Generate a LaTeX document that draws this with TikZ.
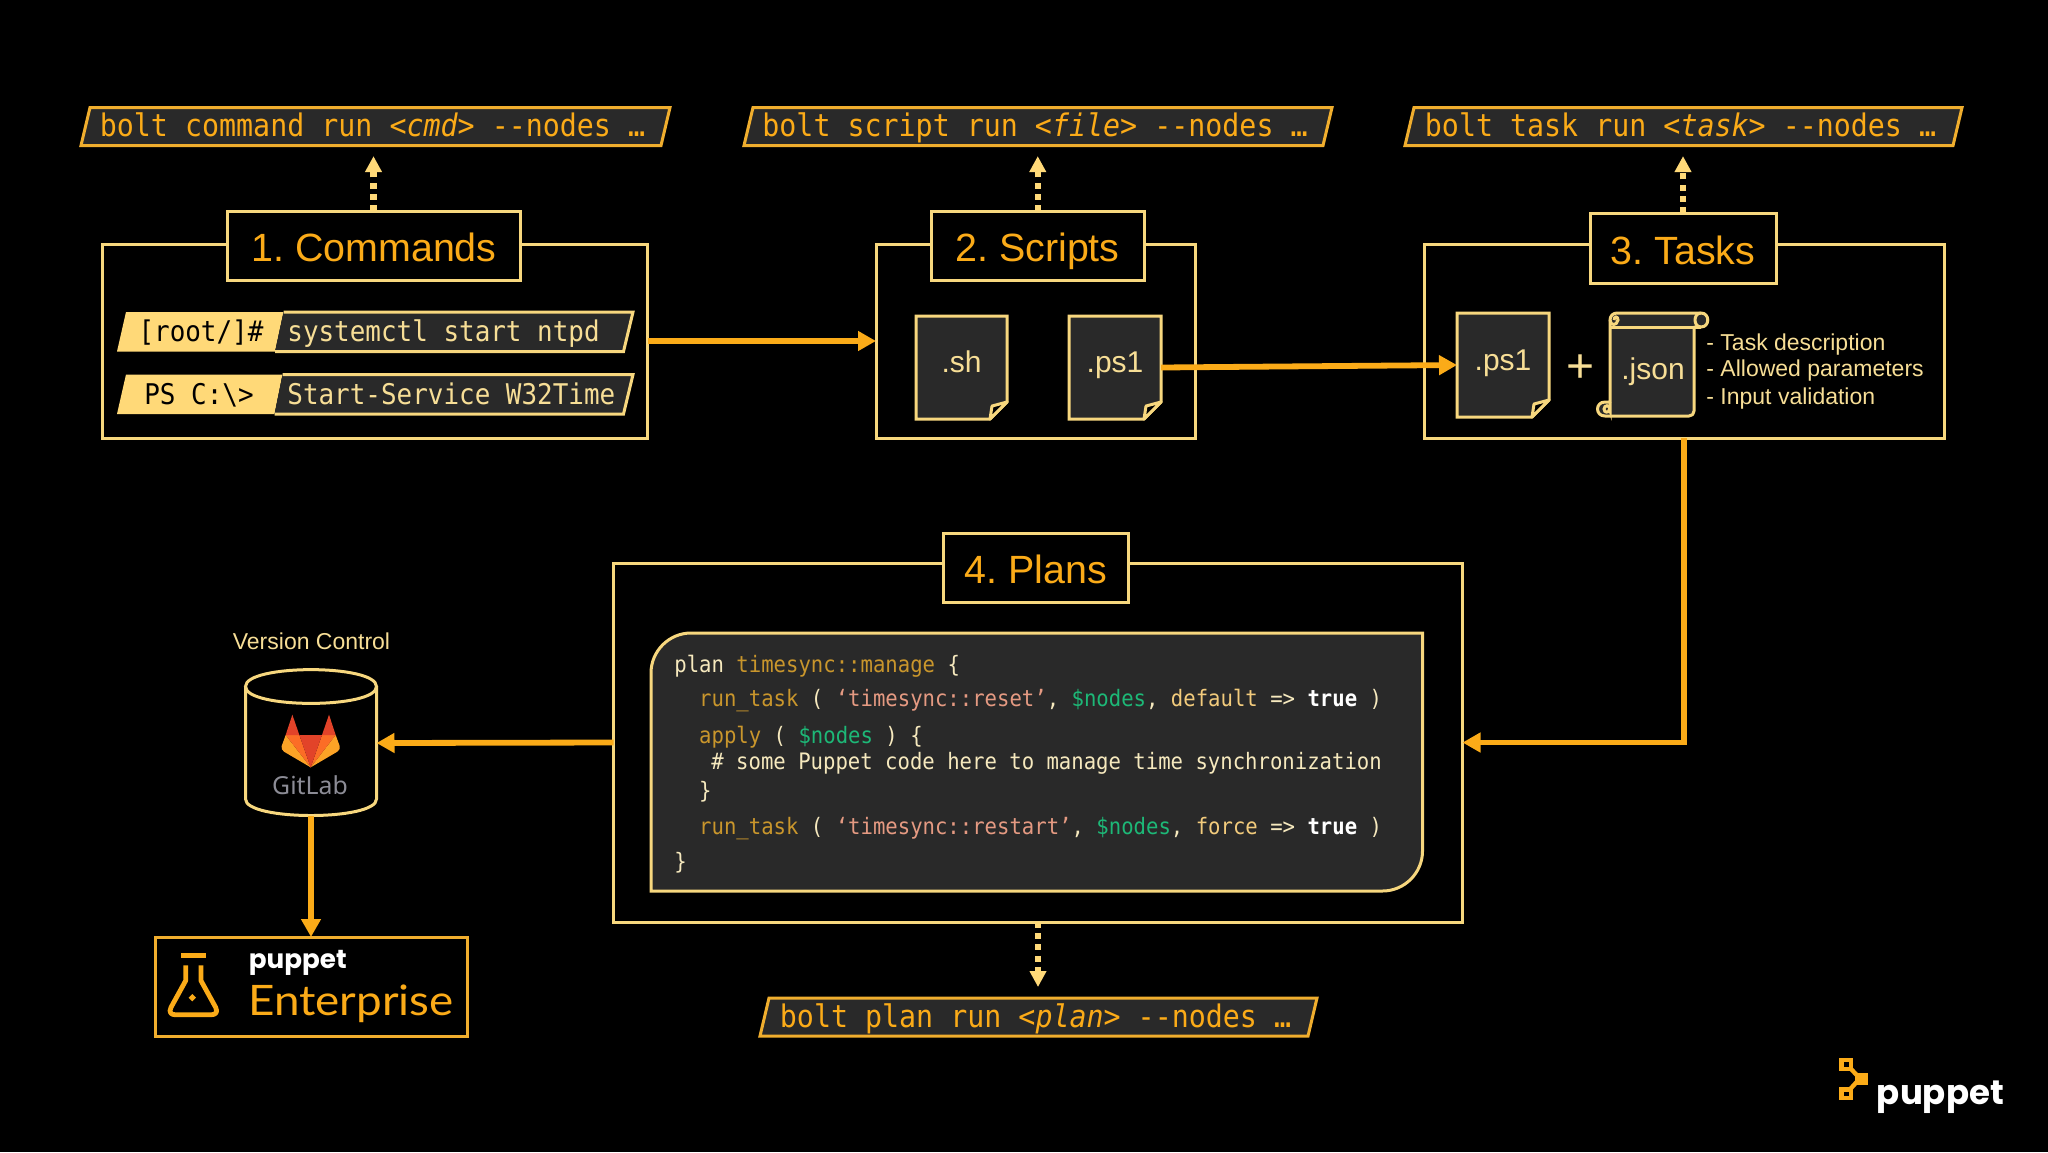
\documentclass[tikz,border=0pt]{standalone}
\usepackage{fontspec}
\usetikzlibrary{arrows.meta}
\setmainfont{Liberation Sans}
\newfontfamily\monoF[FakeStretch=0.91]{DejaVu Sans Mono}
\newfontfamily\popF{Poppins}
\newfontfamily\latoF[FakeStretch=1.09]{Lato}
\newfontfamily\notoF{Noto Sans}
\definecolor{amber}{HTML}{FBAB18}
\definecolor{amberline}{HTML}{F0AE2E}
\definecolor{pale}{HTML}{F7D77E}
\definecolor{palefill}{HTML}{FFD978}
\definecolor{dark}{HTML}{292929}
\definecolor{kwd}{HTML}{C9962C}
\definecolor{strc}{HTML}{E59A82}
\definecolor{grn}{HTML}{1DB877}
\definecolor{argc}{HTML}{F2CB7C}
\definecolor{plainc}{HTML}{F6E9BE}
\definecolor{labc}{HTML}{F7DE96}
\frenchspacing
\newcommand{\fsz}[1]{\fontsize{#1}{#1}\selectfont}
\newcommand{\cK}[1]{{\color{kwd}#1}}
\newcommand{\cS}[1]{{\color{strc}#1}}
\newcommand{\cG}[1]{{\color{grn}#1}}
\newcommand{\cA}[1]{{\color{argc}#1}}
\newcommand{\cT}[1]{{\color{white}\bfseries #1}}
\newcommand{\boxat}[6]{\node[#6,minimum width={(#4-#2)*0.5pt},minimum height={(#5-#3)*0.5pt},inner sep=0pt,outer sep=0pt] (#1) at ({(#2+#4)/2},{(#3+#5)/2}) {};}
% name, xbl, xtr, ytop, ybot, baseline, text
\newcommand{\cmdbox}[7]{%
  \fill[dark] (#2+9,#4) -- (#3,#4) -- (#3-9,#5) -- (#2,#5) -- cycle;
  \draw[amberline,line width=1.5pt] (#2+9,#4) -- (#3,#4) -- (#3-9,#5) -- (#2,#5) -- cycle;
  \boxat{#1}{#2}{#4}{#3}{#5}{}
  \node[cmdtext,anchor=base] (#1t) at ({(#2+#3)/2-3},#6) {#7};}
% name, l, t, r, b, baseline, text
\newcommand{\docbox}[7]{%
  \boxat{#1}{#2}{#3}{#4}{#5}{}
  \draw[pale,fill=dark,line width=1.5pt,line join=miter] (#2,#3) -- (#4,#3) -- (#4,#5-17) -- (#4-17,#5) -- (#2,#5) -- cycle;
  \draw[pale,fill=black,line width=1.5pt,line join=round] (#4,#5-17) -- (#4-15,#5-13) -- (#4-17,#5) -- cycle;
  \node[doctext,anchor=base] (#1t) at ({(#2+#4)/2},#6) {#7};}
% name, top, bottom, splitTop, splitBot, left text x, left text, right text, baseline
\newcommand{\promptrow}[9]{%
  \fill[palefill] (126,#2) -- (#4,#2) -- (#5,#3) -- (117,#3) -- cycle;
  \fill[dark] (#4,#2) -- (633,#2) -- (623.5,#3) -- (#5,#3) -- cycle;
  \draw[pale,line width=1.5pt] (#4,#2) -- (633,#2) -- (623.5,#3) -- (#5,#3);
  \boxat{#1}{117}{#2}{633}{#3}{}
  \node[prompttext,text=black,anchor=base] (#1a) at (#6,#9) {#7};
  \node[prompttext,text=labc,anchor=base west] (#1b) at (287,#9) {#8};}
\tikzset{
  x=0.5pt,y=-0.5pt,
  frame/.style={draw=pale,line width=1.5pt},
  titlebox/.style={draw=pale,fill=black,line width=1.5pt},
  titletext/.style={text=amber,font=\fsz{19.7}},
  cmdtext/.style={text=amber,font=\monoF\fsz{15.55},inner sep=0pt},
  doctext/.style={text=labc,font=\fsz{15},inner sep=0pt},
  prompttext/.style={font=\monoF\fsz{14.25},inner sep=0pt},
  desctext/.style={text=labc,font=\fsz{11.5},inner sep=0pt,anchor=base west},
  codetext/.style={text=plainc,font=\monoF\fsz{11.33},inner sep=0pt,anchor=base west},
  flow/.style={draw=amber,line width=2.9pt,-{Triangle[length=9pt,width=9.5pt,fill=amber]},shorten >=0pt},
  dots/.style={draw=palefill,line width=3.2pt,dash pattern=on 3pt off 2.6pt,-{Triangle[length=8pt,width=8pt,fill=palefill]}},
}
\begin{document}
\begin{tikzpicture}
\useasboundingbox (0,0) rectangle (2048,1152);
\fill[black] (0,0) rectangle (2048,1152);

% command lines
\cmdbox{cmdA}{81}{670}{107.5}{145.5}{136.5}{bolt command run <{\itshape cmd}> --nodes …}
\cmdbox{cmdB}{744}{1332}{107.5}{145.5}{136.5}{bolt script run <{\itshape file}> --nodes …}
\cmdbox{cmdC}{1405}{1962}{107.5}{145.5}{136.5}{bolt task run <{\itshape task}> --nodes …}
\cmdbox{cmdD}{760}{1317}{998}{1036}{1027.5}{bolt plan run <{\itshape plan}> --nodes …}

% frames
\boxat{boxA}{102}{244}{647.5}{438}{frame}
\boxat{boxB}{876}{244}{1195}{438}{frame}
\boxat{boxC}{1424}{244}{1944}{438}{frame}
\boxat{boxD}{613.5}{563}{1462.5}{922}{frame}
\boxat{titleA}{227}{211}{520}{280.5}{titlebox}
\boxat{titleB}{931.5}{211}{1144}{280.5}{titlebox}
\boxat{titleC}{1590}{213}{1776}{283}{titlebox}
\boxat{titleD}{943}{533}{1128}{602}{titlebox}
\node[titletext,anchor=base,inner sep=0pt] (titleAt) at (374,261) {1. Commands};
\node[titletext,anchor=base,inner sep=0pt] (titleBt) at (1037.5,261) {2. Scripts};
\node[titletext,anchor=base,inner sep=0pt] (titleCt) at (1683,264) {3. Tasks};
\node[titletext,anchor=base,inner sep=0pt] (titleDt) at (1036,583) {4. Plans};

% prompts
\promptrow{rowA}{312}{351.5}{283.5}{275}{201}{[root/]\#}{systemctl start ntpd}{341}
\promptrow{rowB}{374.5}{414}{282.5}{274.5}{199}{PS C:\textbackslash >}{Start-Service W32Time}{404}

% documents
\docbox{docSh}{916}{316}{1007}{419}{372.5}{.sh}
\docbox{docPsA}{1069}{316}{1161}{419}{372.5}{.ps1}
\docbox{docPsB}{1457}{313}{1549}{417}{370}{.ps1}
\node[text=labc,font=\fsz{24},inner sep=0pt] (plus) at (1580,369) {+};

% scroll
\boxat{scroll}{1598}{313}{1708}{416}{}
\draw[pale,fill=dark,line width=1.5pt,line join=round]
  (1617,313) -- (1701,313) .. controls (1710,313) and (1710,327) .. (1701,327)
  -- (1694,327) -- (1694,411) .. controls (1694,414) and (1692,416) .. (1689,416)
  -- (1605,416) .. controls (1595,416) and (1595,402) .. (1605,402) -- (1610,402)
  -- (1610,320) .. controls (1610,316) and (1613,313) .. (1617,313) -- cycle;
\draw[pale,line width=1.5pt] (1610,327) -- (1701,327);
\draw[pale,line width=1.5pt] (1701,313) .. controls (1693,313) and (1693,327) .. (1701,327);
\draw[pale,line width=1.5pt] (1610,320) .. controls (1610,326) and (1617,326) .. (1618,320) .. controls (1618,316) and (1614,316) .. (1614,320);
\draw[pale,line width=1.5pt] (1610,402) -- (1610,410) .. controls (1610,404) and (1604,405) .. (1604,409) .. controls (1604,413) and (1609,413) .. (1609,410);
\node[doctext,anchor=base] (scrollt) at (1653,379) {.json};
\node[desctext] (descA) at (1706,350) {- Task description};
\node[desctext] (descB) at (1706,376) {- Allowed parameters};
\node[desctext] (descC) at (1706,404) {- Input validation};

% plan code panel
\draw[pale,fill=dark,line width=1.5pt] (651,673) .. controls (651,651) and (669,633) .. (691,633) -- (1422.5,633) -- (1422.5,851) .. controls (1422.5,873) and (1404.5,891) .. (1382.5,891) -- (651,891) -- cycle;
\node[codetext] (codeA) at (674,672.5) {plan \cK{timesync::manage} \{};
\node[codetext] (codeB) at (698.8,706.5) {\cK{run\_task} ( \cS{‘timesync::reset’}, \cG{\$nodes}, \cA{default} => \cT{true} )};
\node[codetext] (codeC) at (698.8,743) {\cK{apply} ( \cG{\$nodes} ) \{};
\node[codetext] (codeD) at (711,769) {\# some Puppet code here to manage time synchronization};
\node[codetext] (codeE) at (698.8,798) {\}};
\node[codetext] (codeF) at (698.8,834) {\cK{run\_task} ( \cS{‘timesync::restart’}, \cG{\$nodes}, \cA{force} => \cT{true} )};
\node[codetext] (codeG) at (674,869) {\}};

% cylinder
\boxat{cyl}{245.5}{670}{376.5}{816}{}
\draw[pale,line width=1.5pt] (245.5,686.5) -- (245.5,799) .. controls (245.5,821) and (376.5,821) .. (376.5,799) -- (376.5,686.5);
\draw[pale,line width=1.5pt] (245.5,686.5) .. controls (245.5,664) and (376.5,664) .. (376.5,686.5) .. controls (376.5,709) and (245.5,709) .. (245.5,686.5) -- cycle;
\node[text=labc,font=\fsz{11.5},inner sep=0pt,anchor=base] (vc) at (311.5,649) {Version Control};
\begin{scope}[shift={(140,620)},x=0.16667pt,y=-0.16667pt]
  \fill[color={rgb,255:red,252;green,163;blue,38}] (437,345) -- (425,378) .. controls (423,385) and (426,390) .. (432,395) -- (512,442) -- cycle;
  \fill[color={rgb,255:red,252;green,163;blue,38}] (587,345) -- (599,378) .. controls (601,385) and (598,390) .. (592,395) -- (512,442) -- cycle;
  \fill[color={rgb,255:red,252;green,109;blue,38}] (437,345) -- (478,345) -- (512,442) -- cycle;
  \fill[color={rgb,255:red,252;green,109;blue,38}] (587,345) -- (546,345) -- (512,442) -- cycle;
  \fill[color={rgb,255:red,226;green,67;blue,41}] (478,345) -- (546,345) -- (512,442) -- cycle;
  \fill[color={rgb,255:red,226;green,67;blue,41}] (457,284) -- (478,345) -- (437,345) -- cycle;
  \fill[color={rgb,255:red,226;green,67;blue,41}] (567,284) -- (546,345) -- (587,345) -- cycle;
\end{scope}
\node[text={rgb,255:red,140;green,140;blue,150},font=\notoF\fsz{12.4},inner sep=0pt,anchor=base] (gitlabt) at (310,794.5) {GitLab};

% puppet enterprise
\boxat{pe}{155}{937}{467}{1036.5}{draw=amberline,line width=1.5pt}
\begin{scope}[shift={(140,620)},x=0.16667pt,y=-0.16667pt]
  \draw[amber,line width=2.4pt] (123,1006) -- (197,1006);
  \draw[amber,line width=2.4pt,line join=round] (137,1036) -- (137,1082) -- (93,1162) .. controls (85,1178) and (95,1184) .. (105,1184) -- (215,1184) .. controls (225,1184) and (235,1178) .. (227,1162) -- (183,1082) -- (183,1036);
  \fill[amber] (157,1122) -- (168,1133) -- (157,1144) -- (146,1133) -- cycle;
\end{scope}
\node[text=white,font=\popF\bfseries\fsz{13.1},inner sep=0pt,anchor=base west] (pet) at (248.5,968) {puppet};
\node[text=amber,font=\latoF\fsz{21},inner sep=0pt,anchor=base west] (pen) at (248,1015) {Enterprise};

% corner logo
\begin{scope}[shift={(1800,1030)},x=0.16667pt,y=-0.16667pt]
  \draw[amber,line width=2.2pt] (148,112) -- (180,145) -- (148,180);
  \fill[amber] (118,83) rectangle (158,122);
  \fill[amber] (118,172) rectangle (158,211);
  \fill[amber] (165,128) rectangle (205,165);
  \fill[black] (132,96) rectangle (146,110);
  \fill[black] (132,185) rectangle (146,199);
\end{scope}
\node[text=white,font=\popF\bfseries\fsz{17},inner sep=0pt,anchor=base west] (logot) at (1876.5,1104) {puppet};

% connectors
\draw[flow] (boxA.east) -- (boxB.west);
\draw[flow] (docPsA.east) -- (docPsB.west);
\draw[flow,line join=miter] (boxC.south) |- (boxD.east);
\draw[flow] (boxD.west) -- (cyl.east);
\draw[flow] (cyl.south) -- (pe.north);
\draw[dots,shorten >=5.3pt] (titleA.north) -- (titleA.north |- cmdA.south);
\draw[dots,shorten >=5.3pt] (titleB.north) -- (titleB.north |- cmdB.south);
\draw[dots,shorten >=5.3pt] (titleC.north) -- (titleC.north |- cmdC.south);
\draw[dots,shorten >=5.5pt] (boxD.south) -- (boxD.south |- cmdD.north);
\end{tikzpicture}
\end{document}
